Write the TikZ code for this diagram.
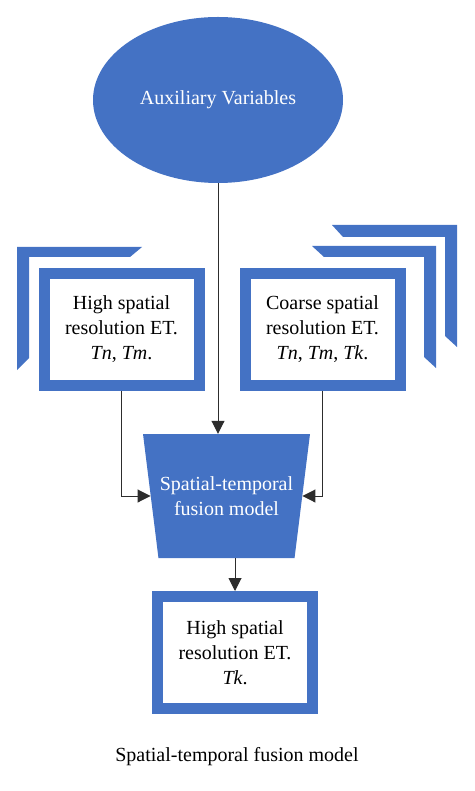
\documentclass[tikz,border=0pt]{standalone}
\usepackage{fontspec}
\setmainfont{Liberation Serif}
\usetikzlibrary{arrows.meta, shapes.geometric}

\definecolor{fusblue}{RGB}{68,114,196}
\definecolor{linegray}{RGB}{45,45,45}

\tikzset{
  etbox/.style={draw=fusblue, line width=11pt, fill=white, minimum width=155pt,
    minimum height=112pt, inner sep=0pt, align=center, text=black},
  shadow/.style={fill=fusblue, draw=none},
  link/.style={draw=linegray, line width=1pt}
}

\begin{document}
\begin{tikzpicture}[x=1pt, y=-1pt, >={Triangle[length=13pt, width=13pt]},
    font=\fontsize{20}{25}\selectfont]
          \useasboundingbox (0,0) rectangle (474,791);

          % stacked frames behind the two input boxes
          \fill[shadow] (17,247) -- (142,247) -- (130,257) -- (29,257) -- (29,358) -- (17,370) -- cycle;
          \fill[shadow] (332,225) -- (457,225) -- (457,347) -- (445,336) -- (445,237) -- (343,237) -- cycle;
          \fill[shadow] (312,246) -- (436,246) -- (436,368) -- (424,357) -- (424,257) -- (324,257) -- cycle;

          \node[ellipse, fill=fusblue, minimum width=250pt, minimum height=166pt, inner sep=0pt,
                text=white] (aux) at (218,100) {Auxiliary Variables};

          \node[etbox] (high) at (121.5,329.5) {High spatial\\resolution ET.\\\textit{Tn}, \textit{Tm}.};
          \node[etbox] (coarse) at (322.5,329.5) {Coarse spatial\\resolution ET.\\\textit{Tn}, \textit{Tm}, \textit{Tk}.};

          \node[trapezium, trapezium angle=82.6, shape border rotate=180, trapezium stretches body=true,
                minimum width=167pt, minimum height=124pt, inner xsep=0pt, inner ysep=40pt, fill=fusblue,
                text=white, align=center] (fusion) at (226.5,496) {Spatial-temporal\\fusion model};

          \node[etbox] (out) at (235,652.5) {High spatial\\resolution ET.\\\textit{Tk}.};

          \draw[link, ->] (aux.south) -- (aux.south |- fusion.north);
          \draw[link, ->] (high.south) |- (fusion.west);
          \draw[link, ->] (coarse.south) |- (fusion.east);
          \draw[link, ->] (out.north |- fusion.south) -- (out.north);

          % caption
          \node (caption) at (237,757) {Spatial-temporal fusion model};
        \end{tikzpicture}
\end{document}
